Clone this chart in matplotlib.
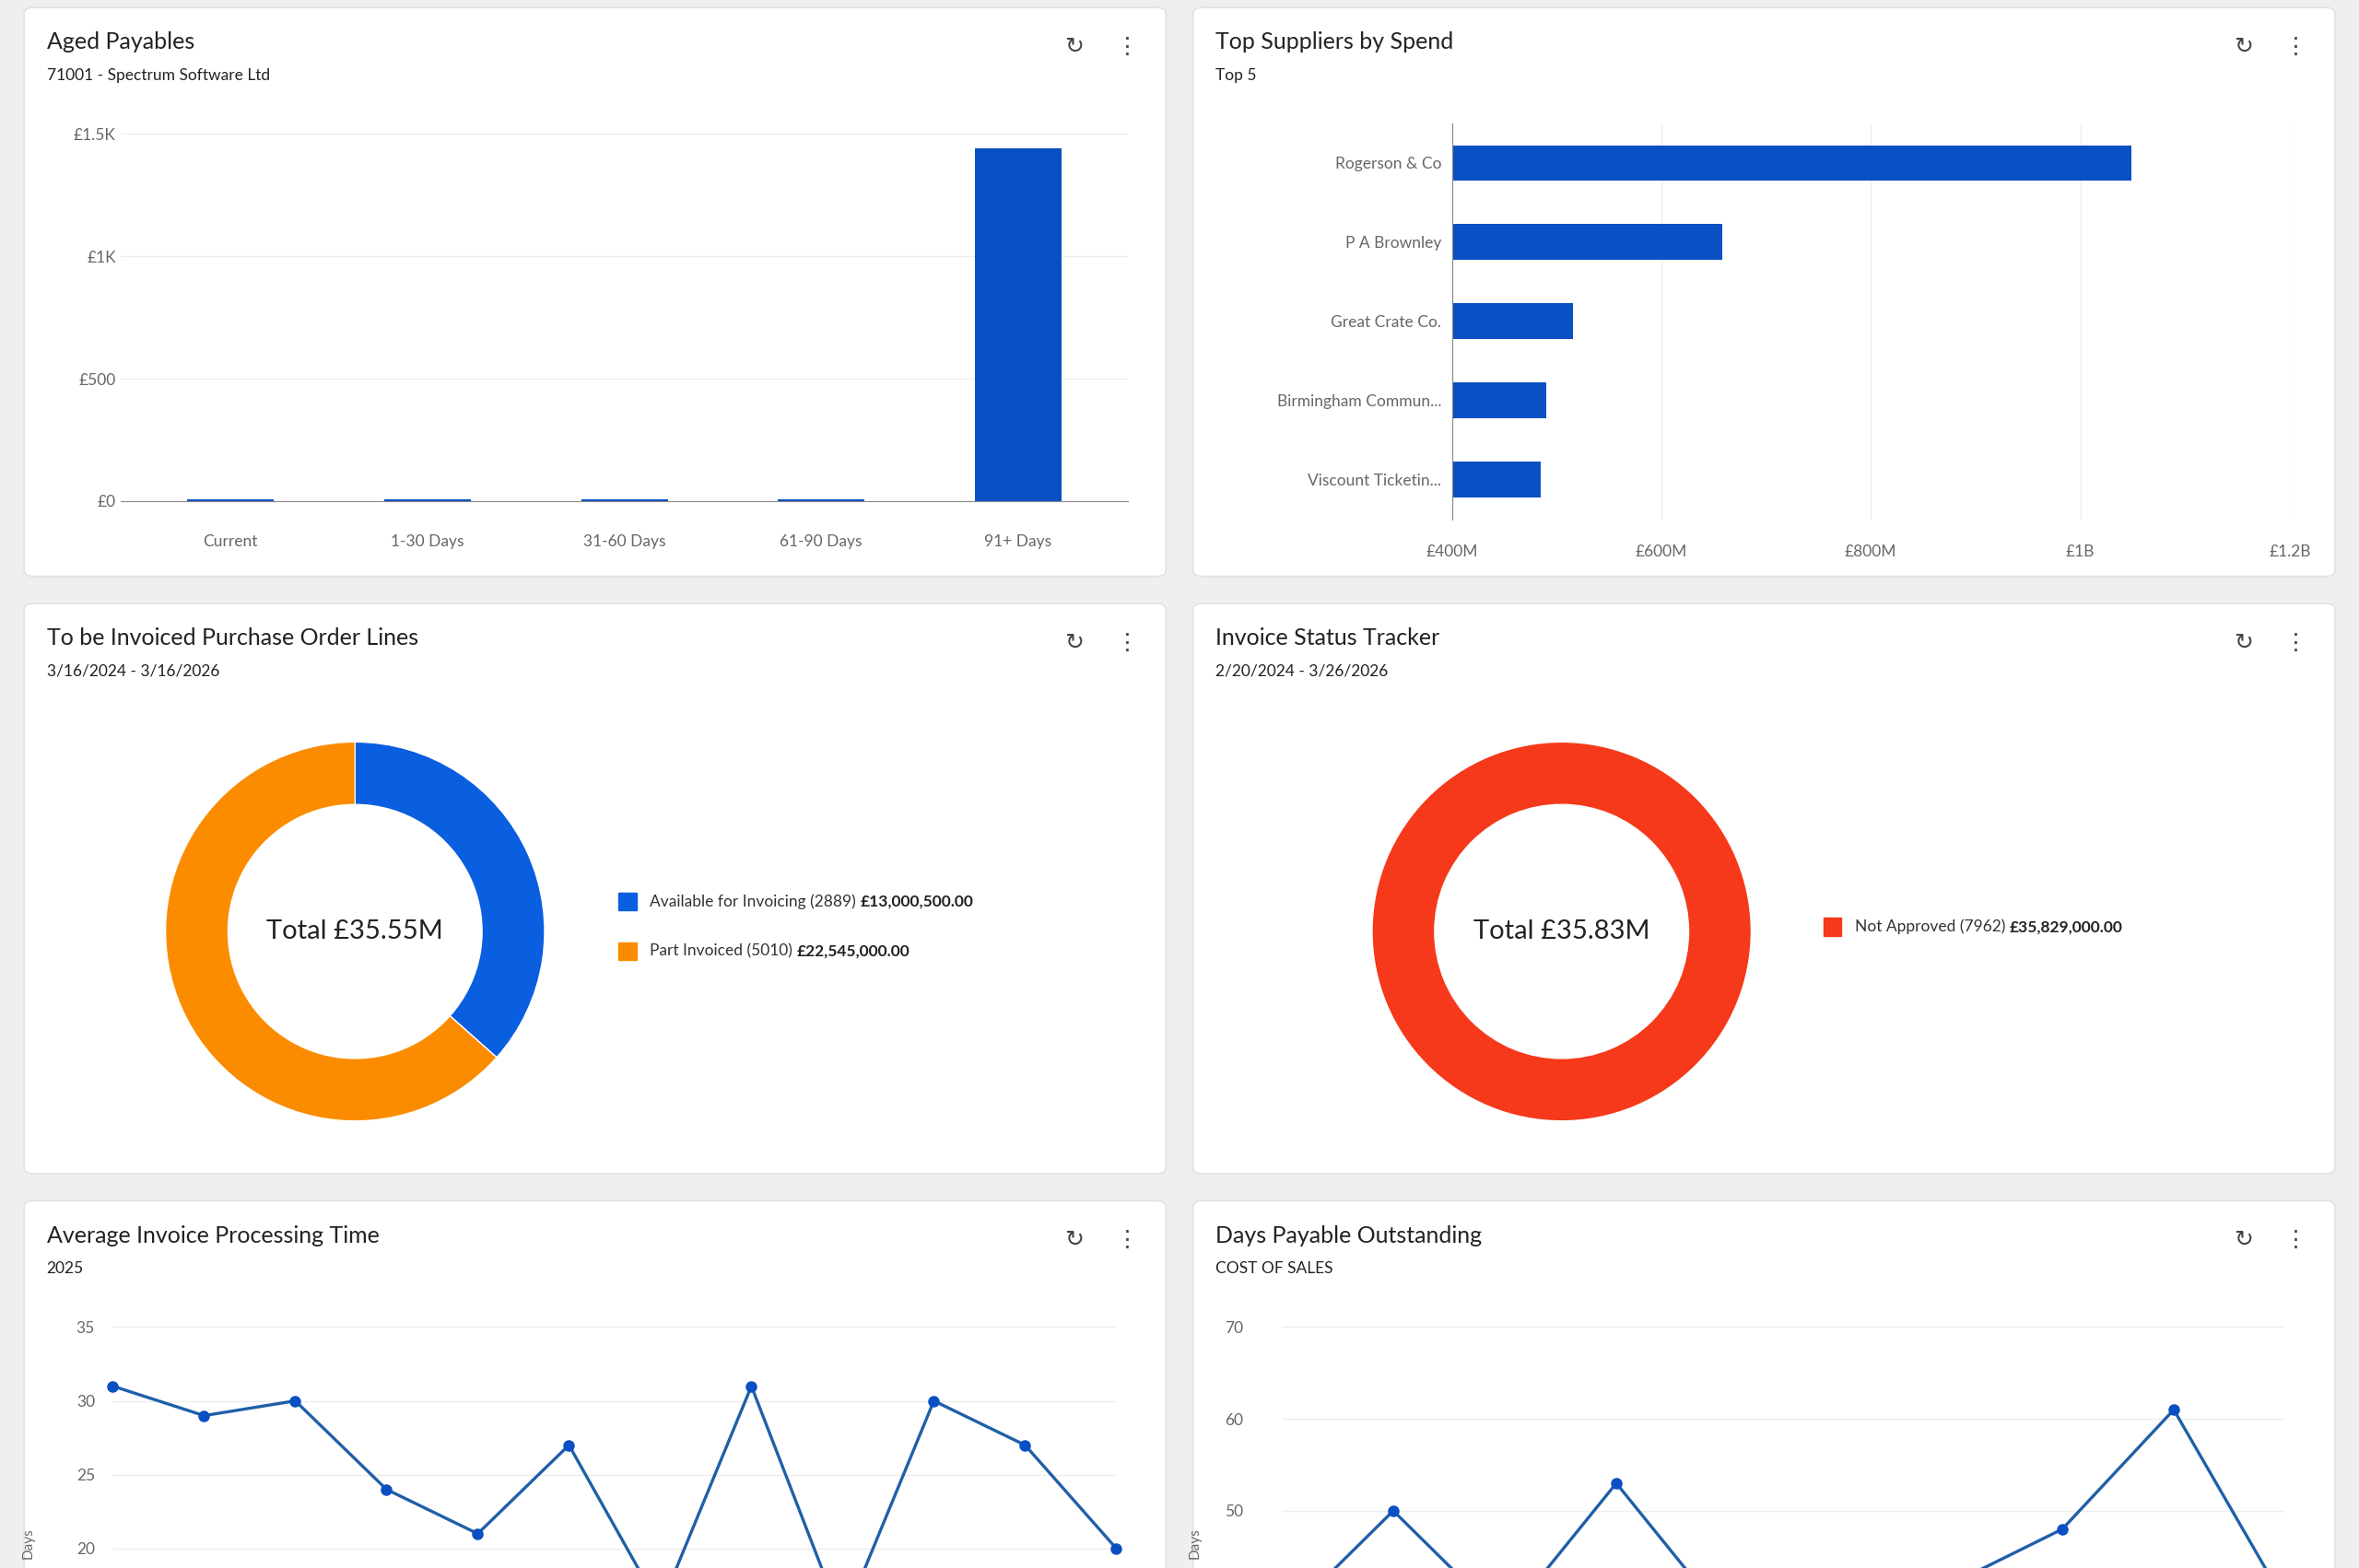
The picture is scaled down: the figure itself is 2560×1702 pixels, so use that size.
import matplotlib.pyplot as plt
from matplotlib.patches import FancyBboxPatch
from matplotlib.ticker import FuncFormatter

plt.rcParams['font.family'] = ['Lato', 'DejaVu Sans']

W, H = 1568, 1042  # layout measured in reference pixels
BLUE = '#0a4fc4'
TXT = '#222222'
TICK = '#666666'

fig = plt.figure(figsize=(25.6, 17.02), dpi=100)
fig.patch.set_facecolor('#efefef')


def fx(x):
    return x / W


def fy(y):
    return 1 - y / H


def box(x0, y0, x1, y1):
    return [fx(x0), fy(y1), fx(x1) - fx(x0), fy(y0) - fy(y1)]


def card(x0, y0, x1, y1, title, sub):
    fig.patches.append(FancyBboxPatch((fx(x0), fy(y1)), fx(x1) - fx(x0), fy(y0) - fy(y1),
                                      boxstyle='round,pad=0,rounding_size=0.004',
                                      transform=fig.transFigure, facecolor='white',
                                      edgecolor='#e2e2e2', lw=1.2, zorder=-5))
    fig.text(fx(x0 + 15), fy(y0 + 23), title, fontsize=18, color=TXT, va='center')
    fig.text(fx(x0 + 15), fy(y0 + 45), sub, fontsize=12.5, color=TXT, va='center')
    fig.text(fx(x1 - 61), fy(y0 + 26), '↻', fontsize=18, color='#444', va='center', ha='center',
             family='DejaVu Sans')
    fig.text(fx(x1 - 26), fy(y0 + 26), '⋮', fontsize=18, color='#444', va='center', ha='center',
             family='DejaVu Sans')


def style(ax):
    for s in ax.spines.values():
        s.set_visible(False)
    ax.tick_params(length=0, labelsize=12.5, colors=TICK)
    ax.set_facecolor('none')


# cards
card(16, 5, 775, 383, 'Aged Payables', '71001 - Spectrum Software Ltd')
card(793, 5, 1552, 383, 'Top Suppliers by Spend', 'Top 5')
card(16, 401, 775, 780, 'To be Invoiced Purchase Order Lines', '3/16/2024 - 3/16/2026')
card(793, 401, 1552, 780, 'Invoice Status Tracker', '2/20/2024 - 3/26/2026')
card(16, 798, 775, 1080, 'Average Invoice Processing Time', '2025')
card(793, 798, 1552, 1080, 'Days Payable Outstanding', 'COST OF SALES')

# Aged payables
aged = {'Current': 6, '1-30 Days': 6, '31-60 Days': 6, '61-90 Days': 6, '91+ Days': 1440}
ax = fig.add_axes(box(80, 89, 750, 333))
ax.bar(list(aged.keys()), list(aged.values()), width=0.44, color=BLUE)
ax.set_xlim(-0.56, 4.56)
ax.set_ylim(0, 1500)
ax.set_yticks([0, 500, 1000, 1500])
ax.yaxis.set_major_formatter(FuncFormatter(
    lambda v, p: '£0' if v == 0 else (f'£{v/1000:g}K' if v >= 1000 else f'£{v:g}')))
ax.grid(axis='y', color='#eeeeee', lw=1)
ax.set_axisbelow(True)
style(ax)
ax.spines['bottom'].set_visible(True)
ax.spines['bottom'].set_color('#888')
ax.tick_params(axis='x', pad=26)

# Top suppliers
suppliers = ['Rogerson & Co', 'P A Brownley', 'Great Crate Co.', 'Birmingham Commun...', 'Viscount Ticketin...']
spend = [1049, 658, 516, 490, 485]  # £M
ax = fig.add_axes(box(965, 82, 1522, 345))
ax.barh(suppliers, spend, height=0.45, color=BLUE)
ax.set_xlim(400, 1200)
ax.set_ylim(4.5, -0.5)
ax.set_xticks([400, 600, 800, 1000, 1200])
ax.set_xticklabels(['£400M', '£600M', '£800M', '£1B', '£1.2B'])
ax.grid(axis='x', color='#eeeeee', lw=1)
ax.set_axisbelow(True)
style(ax)
ax.spines['left'].set_visible(True)
ax.spines['left'].set_color('#888')
ax.tick_params(axis='y', pad=8)
ax.tick_params(axis='x', pad=20)


# Donuts
def donut(cx, cy, r, vals, cols, total, legend, lx, ly):
    ax = fig.add_axes(box(cx - r, cy - r, cx + r, cy + r))
    ax.pie(vals, colors=cols, startangle=90, counterclock=False,
           wedgeprops=dict(width=0.33, edgecolor='white', linewidth=1))
    ax.set_aspect('equal')
    ax.set_xlim(-1, 1)
    ax.set_ylim(-1, 1)
    ax.text(0, 0, total, ha='center', va='center', fontsize=21, color=TXT)
    for i, (lab, amt) in enumerate(legend):
        y = ly + i * 33
        fig.patches.append(plt.Rectangle((fx(lx), fy(y + 6)), fx(12), fy(0) - fy(12),
                                         transform=fig.transFigure, color=cols[i]))
        t = fig.text(fx(lx + 21), fy(y), lab + ' ', fontsize=12.5, color='#333', va='center')
        fig.canvas.draw()
        bb = t.get_window_extent()
        fig.text(bb.x1 / fig.bbox.width, fy(y), amt, fontsize=12.5, color='#222',
                 va='center', weight='bold')


donut(236, 619, 126, [13000500, 22545000], ['#0a5ee0', '#fb8c00'], 'Total £35.55M',
      [('Available for Invoicing (2889)', '£13,000,500.00'),
       ('Part Invoiced (5010)', '£22,545,000.00')], 411, 599)
donut(1038, 619, 126, [35829000], ['#f5391a'], 'Total £35.83M',
      [('Not Approved (7962)', '£35,829,000.00')], 1212, 616)

# Line charts
proc = [31, 29, 30, 24, 21, 27, 16, 31, 15, 30, 27, 20]
ax = fig.add_axes(box(75, 877, 742, 1042))
ax.plot(range(12), proc, color='#1f5fa8', lw=2.4, marker='o', ms=8, mfc=BLUE, mec=BLUE,
        clip_on=False)
ax.set_xlim(0, 11)
ax.set_ylim(35 - (1042 - 882) / 9.8, 35.5)
ax.set_yticks([20, 25, 30, 35])
ax.set_xticks([])
ax.grid(axis='y', color='#eeeeee', lw=1)
style(ax)
ax.tick_params(axis='y', pad=14)
ax.set_ylabel('Days', fontsize=11, color=TICK)
ax.yaxis.set_label_coords(-0.078, 0.1)

dpo = [38, 50, 38, 53, 38, 38, 42, 48, 61, 40]
ax = fig.add_axes(box(852, 877, 1519, 1042))
ax.plot(range(10), dpo, color='#1f5fa8', lw=2.4, marker='o', ms=8, mfc=BLUE, mec=BLUE)
ax.set_xlim(0, 9)
ax.set_ylim(70 - (1042 - 882) / 6.1, 70.8)
ax.set_yticks([50, 60, 70])
ax.set_xticks([])
ax.grid(axis='y', color='#eeeeee', lw=1)
style(ax)
ax.tick_params(axis='y', pad=30)
ax.set_ylabel('Days', fontsize=11, color=TICK)
ax.yaxis.set_label_coords(-0.08, 0.1)

fig.savefig('out.png', dpi=100, facecolor=fig.get_facecolor())
